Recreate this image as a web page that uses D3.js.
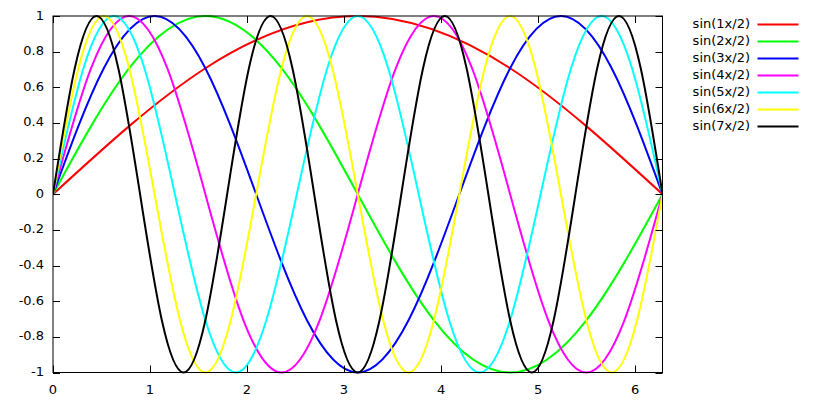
<!DOCTYPE html>
<html>
<head>
<meta charset="utf-8">
<script src="https://cdn.jsdelivr.net/npm/d3@7"></script>
<style>
html,body{margin:0;padding:0;background:#fff;}
svg{display:block;}
text{font-family:"DejaVu Sans",sans-serif;font-size:13px;fill:#000;}
</style>
</head>
<body>
<svg id="chart" width="813" height="406"></svg>
<script>
// Series labels and colours
const labels = ["sin(1x/2)","sin(2x/2)","sin(3x/2)","sin(4x/2)","sin(5x/2)","sin(6x/2)","sin(7x/2)"];
const colors = ["#ff0000","#00ff00","#0000ff","#ff00ff","#00ffff","#ffff00","#000000"];

// Sampled values of each curve, evenly spaced from x = 0 to x = 2π (read at zeros, peaks and midpoints)
const s1 = [0,0.707,1,0.707,0];
const s2 = [0,0.707,1,0.707,0,-0.707,-1,-0.707,0];
const s3 = [0,0.707,1,0.707,0,-0.707,-1,-0.707,0,0.707,1,0.707,0];
const s4 = [0,0.707,1,0.707,0,-0.707,-1,-0.707,0,0.707,1,0.707,0,-0.707,-1,-0.707,0];
const s5 = [0,0.707,1,0.707,0,-0.707,-1,-0.707,0,0.707,1,0.707,0,-0.707,-1,-0.707,0,0.707,1,0.707,0];
const s6 = [0,0.707,1,0.707,0,-0.707,-1,-0.707,0,0.707,1,0.707,0,-0.707,-1,-0.707,0,0.707,1,0.707,0,-0.707,-1,-0.707,0];
const s7 = [0,0.707,1,0.707,0,-0.707,-1,-0.707,0,0.707,1,0.707,0,-0.707,-1,-0.707,0,0.707,1,0.707,0,-0.707,-1,-0.707,0,0.707,1,0.707,0];
const series = [s1,s2,s3,s4,s5,s6,s7];

const xMax = 6.2832;
const xTicks = [0,1,2,3,4,5,6];
const yTicks = [-1,-0.8,-0.6,-0.4,-0.2,0,0.2,0.4,0.6,0.8,1];

const svg = d3.select("#chart");
const L = 53, R = 662.5, T = 16, B = 372.5;
const x = d3.scaleLinear().domain([0, xMax]).range([L, R]);
const y = d3.scaleLinear().domain([-1, 1]).range([B, T]);
const tick = 7;

// curves
svg.append("clipPath").attr("id","clip").append("rect")
  .attr("x", L).attr("y", T-2).attr("width", R-L).attr("height", B-T+4);
const g = svg.append("g").attr("clip-path","url(#clip)");
series.forEach((vals, i) => {
  const xi = d3.scaleLinear().domain([0, vals.length-1]).range([0, xMax]);
  const line = d3.line().x((d, j) => x(xi(j))).y(d => y(d)).curve(d3.curveNatural);
  g.append("path").attr("d", line(vals)).attr("fill","none")
    .attr("stroke", colors[i]).attr("stroke-width", 2);
});

// ticks (gnuplot style: inward and mirrored)
const ax = svg.append("g").attr("stroke","#000").attr("stroke-width",1);
xTicks.forEach(t => {
  const px = Math.round(x(t)) + 0.5;
  ax.append("line").attr("x1",px).attr("x2",px).attr("y1",B).attr("y2",B-tick);
  ax.append("line").attr("x1",px).attr("x2",px).attr("y1",T).attr("y2",T+tick);
  svg.append("text").attr("x", x(t)).attr("y", B+18).attr("text-anchor","middle")
    .attr("dominant-baseline","middle").text(d3.format("d")(t));
});
yTicks.forEach(t => {
  const py = Math.round(y(t)) + 0.5;
  ax.append("line").attr("x1",L).attr("x2",L+tick).attr("y1",py).attr("y2",py);
  ax.append("line").attr("x1",R).attr("x2",R-tick).attr("y1",py).attr("y2",py);
  svg.append("text").attr("x", L-9).attr("y", y(t)).attr("text-anchor","end")
    .attr("dominant-baseline","middle").text(String(t));
});
ax.append("rect").attr("x",L).attr("y",T).attr("width",R-L).attr("height",B-T).attr("fill","none");

// legend
const lg = svg.append("g");
labels.forEach((lab, i) => {
  const ly = 24 + i*17;
  lg.append("text").attr("x", 750).attr("y", ly).attr("text-anchor","end")
    .attr("dominant-baseline","middle").text(lab);
  lg.append("line").attr("x1",757.5).attr("x2",798.5).attr("y1",ly+0.5).attr("y2",ly+0.5)
    .attr("stroke", colors[i]).attr("stroke-width",2);
});
</script>
</body>
</html>
